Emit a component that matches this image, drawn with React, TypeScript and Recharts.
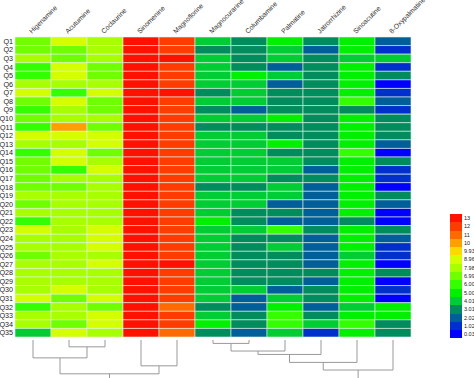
import { BarChart, Bar, Cell, XAxis, YAxis, LineChart, Line } from "recharts";

const compounds = [
  "Higenamine", "Acutumine", "Coclaurine", "Sinomenine", "Magnoflorine", "Magnocurarine",
  "Columbamine", "Palmatine", "Jatrorrhizine", "Sinoacutine", "8-Oxypalmatine",
];

const samples = Array.from({ length: 35 }, (_, i) => `Q${i + 1}`);

// one list per compound, Q1..Q35
const higenamine = [7.5, 7.5, 8.5, 6.5, 6.5, 8.5, 9.4, 7.5, 6.5, 7.5, 6.5, 9.4, 8.5, 6.5, 7.5, 7.5, 7.5, 7.5, 8.5, 7.5, 8.5, 6.5, 9.4, 8.5, 8.5, 7.5, 8.5, 8.5, 8.5, 8.5, 9.4, 6.2, 8.5, 8.5, 4.6];
const acutumine = [9.4, 7.5, 7.5, 9.4, 9.4, 8.5, 6.5, 9.4, 8.5, 8.5, 10.5, 9.4, 8.5, 9.4, 9.4, 6.5, 8.5, 7.5, 8.5, 8.5, 8.5, 8.5, 8.5, 8.5, 8.5, 8.5, 8.5, 8.5, 8.5, 9.4, 7.5, 8.5, 8.5, 7.5, 9.4];
const coclaurine = [8.5, 8.5, 8.5, 7.5, 7.5, 8.5, 9.4, 7.5, 7.5, 8.5, 7.5, 9.4, 9.4, 7.5, 8.5, 9.4, 8.5, 8.5, 8.5, 8.5, 8.5, 8.5, 9.4, 9.4, 9.4, 8.5, 9.4, 8.5, 8.5, 8.5, 9.4, 7.5, 9.4, 9.4, 8.5];
const sinomenine = [13.2, 13.2, 13.2, 13.2, 13.2, 13.2, 13.2, 13.2, 13.2, 13.2, 13.2, 13.2, 13.2, 13.2, 13.2, 13.2, 13.2, 13.2, 13.2, 13.2, 13.2, 13.2, 13.2, 13.2, 13.2, 13.2, 13.2, 13.2, 13.2, 13.2, 13.2, 13.2, 13.2, 13.2, 13.2];
const magnoflorine = [12.4, 12.4, 13.1, 12.4, 12.4, 12.4, 13.1, 12.4, 12.4, 12.4, 12.4, 12.4, 12.4, 12.4, 12.4, 12.4, 12.4, 12.4, 12.4, 12.4, 12.4, 12.4, 12.4, 12.4, 12.4, 12.4, 13.1, 12.4, 12.4, 12.4, 12.4, 11.5, 12.4, 12.4, 11.5];
const magnocurarine = [4.5, 3.5, 4.5, 4.5, 4.5, 4.5, 3.5, 4.5, 3.5, 4.5, 3.5, 4.5, 4.5, 4.5, 4.5, 4.5, 4.5, 3.5, 4.5, 4.5, 4.5, 5.5, 4.5, 4.5, 4.5, 4.5, 4.5, 4.5, 4.5, 4.5, 4.5, 3.5, 4.5, 5.5, 3.5];
const columbamine = [3.5, 3.5, 3.5, 3.5, 5.5, 4.5, 4.5, 4.5, 2.5, 4.5, 3.5, 4.5, 4.5, 4.5, 4.5, 4.5, 4.5, 3.5, 4.5, 4.5, 3.5, 3.5, 4.5, 3.5, 3.5, 3.5, 3.5, 3.5, 3.5, 4.5, 2.5, 2.5, 3.5, 3.5, 2.5];
const palmatine = [5.5, 4.5, 4.5, 2.5, 4.5, 2.5, 3.5, 3.5, 3.5, 5.5, 3.5, 3.5, 5.5, 3.5, 4.5, 4.5, 3.5, 4.5, 4.5, 2.5, 3.5, 2.5, 6.5, 3.5, 4.5, 3.5, 3.5, 3.5, 3.5, 2.5, 4.5, 5.5, 6.5, 6.5, 4.5];
const jatrorrhizine = [3.5, 2.5, 3.5, 3.5, 3.5, 3.5, 3.5, 3.5, 3.5, 3.5, 3.5, 3.5, 3.5, 3.5, 3.5, 2.5, 3.5, 2.5, 2.5, 2.5, 2.5, 2.5, 3.5, 2.5, 2.5, 2.5, 2.5, 3.5, 2.5, 3.5, 3.5, 2.5, 3.5, 4.5, 1.5];
const sinoacutine = [5.5, 5.5, 4.5, 5.5, 5.5, 5.5, 5.5, 6.5, 3.5, 5.5, 5.5, 5.5, 5.5, 6.5, 5.5, 5.5, 5.5, 5.5, 5.5, 5.5, 5.5, 3.5, 5.5, 5.5, 5.5, 4.5, 5.5, 5.5, 5.5, 5.5, 5.5, 4.5, 5.5, 6.5, 5.5];
const oxypalmatine = [2.5, 1.5, 4.5, 1.5, 3.5, 0.5, 1.5, 2.5, 1.5, 3.5, 3.5, 3.5, 2.5, 0.5, 3.5, 1.5, 1.5, 0.5, 3.5, 2.5, 0.5, 0.5, 3.5, 2.5, 1.5, 1.5, 0.5, 3.5, 0.5, 1.5, 0.5, 5.5, 5.5, 3.5, 3.5];

const columns = [higenamine, acutumine, coclaurine, sinomenine, magnoflorine, magnocurarine, columbamine, palmatine, jatrorrhizine, sinoacutine, oxypalmatine];

// colour key, top to bottom
const keyLabels = ["13", "12", "11", "10", "9.93", "8.96", "7.98", "6.99", "6.00", "5.00", "4.01", "3.01", "2.02", "1.02", "0.03"];
const keyColors = ["#ff1100", "#ff3c00", "#ff6a00", "#ffa000", "#ffd800", "#d4ff00", "#a8ff00", "#70ff00", "#33ff00", "#00f000", "#00cc33", "#008c5c", "#005f99", "#0030cc", "#0000ff"];

// dendrogram: merges of column index / earlier merge ("m0"..), with height
const merges: [string, string, number][] = [
  ["1", "2", 0.18],
  ["0", "m0", 0.47],
  ["3", "4", 0.68],
  ["m1", "m2", 0.89],
  ["5", "6", 0.09],
  ["m4", "7", 0.29],
  ["m5", "8", 0.38],
  ["m6", "9", 0.59],
  ["m7", "10", 0.79],
  ["m3", "m8", 1.3],
];

function colorFor(v: number) {
  for (let i = 0; i < keyLabels.length; i++) {
    if (v >= parseFloat(keyLabels[i])) return keyColors[i];
  }
  return keyColors[keyColors.length - 1];
}

const data = compounds.map((name) => {
  const row: Record<string, string | number> = { name };
  samples.forEach((s) => (row[s] = 1));
  return row;
});

const dendroLines = (() => {
  const nodes: Record<string, { x: number; h: number }> = {};
  compounds.forEach((_, i) => (nodes[String(i)] = { x: i + 0.5, h: 0 }));
  return merges.map(([a, b, h], i) => {
    const na = nodes[a];
    const nb = nodes[b];
    nodes[`m${i}`] = { x: (na.x + nb.x) / 2, h };
    return [
      { x: na.x, y: na.h },
      { x: na.x, y: h },
      { x: nb.x, y: h },
      { x: nb.x, y: nb.h },
    ];
  });
})();

const font = "'Liberation Sans', Arial, sans-serif";

function TopTick(props: any) {
  const { x, y, payload } = props;
  const ty = y + 5;
  return (
    <text x={x - 1} y={ty} transform={`rotate(-45, ${x - 1}, ${ty})`} fontSize={6.8} fill="#333" fontFamily={font} textAnchor="start">
      {payload.value}
    </text>
  );
}

export default function App() {
  return (
    <div style={{ position: "absolute", left: 0, top: 0, width: 474, height: 378, background: "#fff", fontFamily: font }}>
      <div style={{ position: "absolute", left: 0, top: 0 }}>
        <BarChart width={474} height={378} data={data} margin={{ top: 17, right: 63, bottom: 41, left: 0 }} barCategoryGap={0} barGap={0}>
          <XAxis dataKey="name" orientation="top" height={20} axisLine={false} tickLine={false} interval={0} tick={<TopTick />} />
          <YAxis
            type="number"
            domain={[0, 35]}
            reversed
            width={15}
            ticks={samples.map((_, i) => i + 0.5)}
            tickFormatter={(v: number) => samples[Math.floor(v)]}
            interval={0}
            axisLine={false}
            tickLine={false}
            tickSize={0}
            tickMargin={2}
            tick={{ fontSize: 7.2, fill: "#222", fontFamily: font }}
          />
          {samples.map((s, i) => (
            <Bar key={s} dataKey={s} stackId="h" isAnimationActive={false}>
              {columns.map((col, j) => (
                <Cell key={j} fill={colorFor(col[i])} stroke="#dff3e4" strokeWidth={0.6} />
              ))}
            </Bar>
          ))}
        </BarChart>
      </div>
      <div style={{ position: "absolute", left: 0, top: 0 }}>
        <LineChart width={474} height={378} margin={{ top: 340, right: 63, bottom: 0, left: 15 }}>
          <XAxis type="number" dataKey="x" domain={[0, 11]} hide />
          <YAxis type="number" domain={[0, 1]} reversed hide width={0} allowDataOverflow />
          {dendroLines.map((pts, i) => (
            <Line key={i} data={pts} dataKey="y" type="linear" stroke="#999" strokeWidth={1} dot={false} isAnimationActive={false} />
          ))}
        </LineChart>
      </div>
      <div style={{ position: "absolute", left: 450, top: 214 }}>
        {keyLabels.map((lab, i) => (
          <div key={lab} style={{ display: "flex", alignItems: "center", height: 8.3 }}>
            <div style={{ width: 12, height: 8.3, background: keyColors[i] }} />
            <span style={{ fontSize: 5.5, marginLeft: 2, color: "#222", lineHeight: "8.3px" }}>{lab}</span>
          </div>
        ))}
      </div>
    </div>
  );
}
